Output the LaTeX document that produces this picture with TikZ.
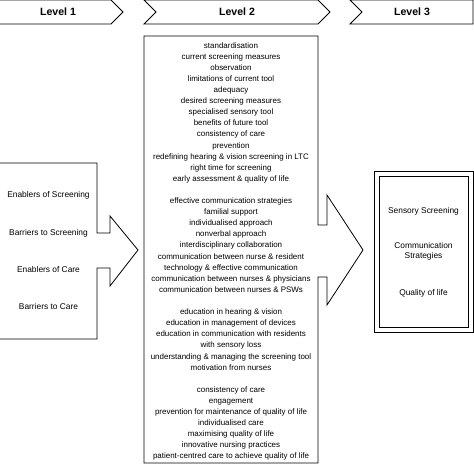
\documentclass[tikz,border=0pt]{standalone}
\usepackage{fontspec}
\setmainfont{Liberation Sans}

\begin{document}
\begin{tikzpicture}[x=1bp,y=-1bp,line width=0.8bp,line join=miter,
  levelhead/.style={font=\fontsize{10.6}{12}\selectfont\bfseries,inner sep=0pt},
  themetext/.style={font=\fontsize{8.4}{10.4}\selectfont,align=center,inner sep=0pt},
  codetext/.style={font=\fontsize{8.0}{11.14}\selectfont,align=center,inner sep=0pt}]
\useasboundingbox (0,0) rectangle (474,467);

\draw (0,0) -- (111,0) -- (123,12) -- (111,24) -- (0,24);
\draw (144,0) -- (318,0) -- (330,12) -- (318,24) -- (144,24) -- (156,12) -- cycle;
\draw (473,0) -- (350,0) -- (362,12) -- (350,24) -- (473,24) -- cycle;
\node[levelhead] (lvlone) at (58,12) {Level 1};
\node[levelhead] (lvltwo) at (237,12) {Level 2};
\node[levelhead] (lvlthree) at (412,12) {Level 3};

\draw (0,163) -- (97,163) -- (97,233) -- (110,233) -- (110,216) -- (138,250)
  -- (110,286) -- (110,268) -- (97,268) -- (97,339) -- (0,339);
\draw (144,36) -- (318,36) -- (318,225) -- (327,225) -- (327,195) -- (363,250)
  -- (327,305) -- (327,277) -- (318,277) -- (318,463) -- (144,463) -- cycle;
\draw (374,171) rectangle (473,332);
\draw (379,176) rectangle (468,327);

\coordinate (L1) at (48.5,195);
\coordinate (L3) at (423.5,211);
\node[themetext] (enscr) at (L1) {Enablers of Screening};
\node[themetext,yshift=-38bp] (bascr) at (L1) {Barriers to Screening};
\node[themetext,yshift=-75bp] (encare) at (L1) {Enablers of Care};
\node[themetext,yshift=-112bp] (bacare) at (L1) {Barriers to Care};

\node[themetext] (sensory) at (L3) {Sensory Screening};
\node[themetext,yshift=-40.5bp] (commstrat) at (L3) {Communication\\Strategies};
\node[themetext,yshift=-82bp] (qol) at (L3) {Quality of life};

\node[codetext,anchor=north] (codes) at (231,42) {standardisation\\
  current screening measures\\
  observation\\
  limitations of current tool\\
  adequacy\\
  desired screening measures\\
  specialised sensory tool\\
  benefits of future tool\\
  consistency of care\\
  prevention\\
  redefining hearing \& vision screening in LTC\\
  right time for screening\\
  early assessment \& quality of life\\[11.14bp]
  effective communication strategies\\
  familial support\\
  individualised approach\\
  nonverbal approach\\
  interdisciplinary collaboration\\
  communication between nurse \& resident\\
  technology \& effective communication\\
  communication between nurses \& physicians\\
  communication between nurses \& PSWs\\[11.14bp]
  education in hearing \& vision\\
  education in management of devices\\
  education in communication with residents\\
  with sensory loss\\
  understanding \& managing the screening tool\\
  motivation from nurses\\[11.14bp]
  consistency of care\\
  engagement\\
  prevention for maintenance of quality of life\\
  individualised care\\
  maximising quality of life\\
  innovative nursing practices\\
  patient-centred care to achieve quality of life};
\end{tikzpicture}
\end{document}
